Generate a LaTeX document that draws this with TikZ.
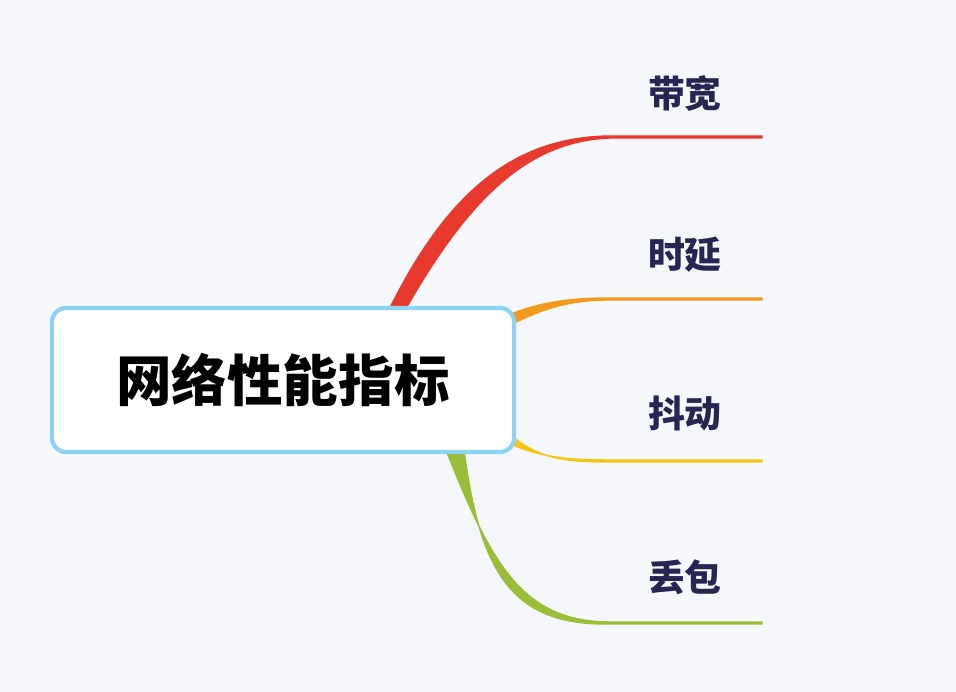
\documentclass[tikz,border=0pt]{standalone}
\usepackage{fontspec}
\newfontfamily\cjk{Noto Sans CJK SC}
\begin{document}
\begin{tikzpicture}[x=0.01cm,y=-0.01cm]
        % Canvas
        \definecolor{bgGray}{HTML}{F6F7FA}
        \fill[bgGray] (0,0) rectangle (956,692);
        \useasboundingbox (0,0) rectangle (956,692);

        \tikzset{
            leaf/.style={font=\cjk\bfseries\fontsize{10.5pt}{12pt}\selectfont, text=blue!20!black!85, anchor=center},
            branch/.style={draw=#1, fill=#1, line width=0.4pt}
        }
        \definecolor{bRed}{HTML}{E8392F}
        \definecolor{bOrange}{HTML}{F39A1E}
        \definecolor{bYellow}{HTML}{F5C518}
        \definecolor{bGreen}{HTML}{9BBE3A}
        \definecolor{rootLine}{HTML}{8FD3F2}

        % Branches (tapered)
        \path[branch=bRed] (388,312) .. controls (450,185) and (520,137) .. (610,136) -- (762,136) -- (762,138) -- (610,138) .. controls (530,141) and (470,195) .. (404,312) -- cycle;
        \path[branch=bOrange] (506,316) .. controls (540,302) and (570,298) .. (610,298) -- (762,298) -- (762,300) -- (610,300) .. controls (570,300) and (545,308) .. (512,324) -- cycle;
        \path[branch=bYellow] (506,442) .. controls (540,458) and (570,460) .. (610,460) -- (762,460) -- (762,462) -- (610,462) .. controls (570,462) and (540,460) .. (512,436) -- cycle;
        \path[branch=bGreen] (446,450) .. controls (490,560) and (520,622) .. (610,622) -- (762,622) -- (762,624) -- (610,624) .. controls (510,626) and (480,570) .. (464,450) -- cycle;

        % Root
        \node[draw=rootLine, line width=1.2pt, fill=white, rounded corners=4pt,
              minimum width=4.62cm, minimum height=1.44cm,
              font=\cjk\bfseries\fontsize{15.8pt}{18pt}\selectfont] (root) at (283,380) {网络性能指标};

        % Leaves
        \node[leaf] (bw) at (685,93) {带宽};
        \node[leaf] (delay) at (685,255) {时延};
        \node[leaf] (jitter) at (685,413) {抖动};
        \node[leaf] (loss) at (685,577) {丢包};
\end{tikzpicture}
\end{document}
